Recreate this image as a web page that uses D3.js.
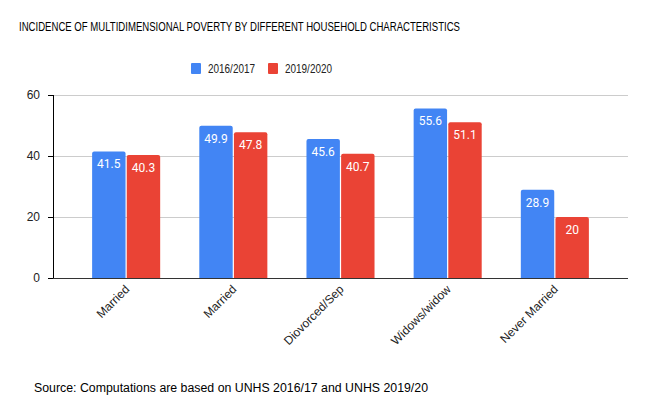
<!DOCTYPE html>
<html>
<head>
<meta charset="utf-8">
<script src="https://cdn.jsdelivr.net/npm/d3@7.9.0/dist/d3.min.js"></script>
<style>
  body { margin: 0; background: #fff; }
  svg { font-family: Arial, "Liberation Sans", sans-serif; }
</style>
</head>
<body>
<svg id="chart"></svg>
<script>
// data
const categories = ['Married', 'Married', 'Diovorced/Sep', 'Widows/widow', 'Never Married'];
const seriesNames = ['2016/2017', '2019/2020'];
const values2016 = [41.5, 49.9, 45.6, 55.6, 28.9];
const values2019 = [40.3, 47.8, 40.7, 51.1, 20];
const yTicks = [0, 20, 40, 60];
const colors = ['#4285f4', '#ea4335'];

const width = 646;
const height = 400;

const svg = d3.select('#chart')
    .attr('width', width)
    .attr('height', height);

const area = { left: 53, right: 628, top: 95, bottom: 278 };

// index-based band so the duplicate "Married" label gets its own slot
const xScale = d3.scaleBand()
    .domain(categories.map((d, i) => i))
    .range([area.left, area.right])
    .padding(0.365);

const xInner = d3.scaleBand()
    .domain([0, 1])
    .range([0, xScale.bandwidth()])
    .paddingInner(0.035);

const yScale = d3.scaleLinear()
    .domain([0, 60])
    .range([area.bottom, area.top]);

// title (reference font is condensed, so squeeze to its width)
svg.append('text')
    .attr('x', 19)
    .attr('y', 31)
    .attr('font-size', 12.5)
    .attr('fill', '#000')
    .attr('textLength', 441)
    .attr('lengthAdjust', 'spacingAndGlyphs')
    .text('INCIDENCE OF MULTIDIMENSIONAL POVERTY BY DIFFERENT HOUSEHOLD CHARACTERISTICS');

// legend
const legend = svg.append('g').attr('class', 'legend');
const legendX = [191, 268];
seriesNames.forEach((name, i) => {
    legend.append('rect')
        .attr('x', legendX[i])
        .attr('y', 63)
        .attr('width', 10)
        .attr('height', 11)
        .attr('rx', 1)
        .attr('fill', colors[i]);
    legend.append('text')
        .attr('x', legendX[i] + 17)
        .attr('y', 73)
        .attr('font-size', 12)
        .attr('fill', '#222')
        .attr('textLength', 47)
        .attr('lengthAdjust', 'spacingAndGlyphs')
        .text(name);
});

// gridlines
svg.append('g')
    .attr('class', 'gridlines')
    .attr('transform', `translate(${area.left}, 0)`)
    .call(d3.axisLeft(yScale).tickValues(yTicks).tickFormat('').tickSize(-(area.right - area.left)))
    .call(g => g.select('.domain').remove())
    .call(g => g.selectAll('line').attr('stroke', '#cccccc'));

// bars
const groups = svg.append('g')
    .selectAll('g')
    .data(categories.map((c, i) => [values2016[i], values2019[i]]))
    .join('g')
    .attr('transform', (d, i) => `translate(${xScale(i)}, 0)`);

groups.selectAll('path')
    .data(d => d)
    .join('path')
    .attr('fill', (d, j) => colors[j])
    .attr('d', (d, j) => {
        const x0 = xInner(j), w = xInner.bandwidth();
        const y0 = yScale(d), y1 = yScale(0), r = 2;
        return `M${x0},${y1}V${y0 + r}Q${x0},${y0} ${x0 + r},${y0}H${x0 + w - r}Q${x0 + w},${y0} ${x0 + w},${y0 + r}V${y1}Z`;
    });

groups.selectAll('text')
    .data(d => d)
    .join('text')
    .attr('x', (d, j) => xInner(j) + xInner.bandwidth() / 2)
    .attr('y', d => yScale(d) + 17)
    .attr('text-anchor', 'middle')
    .attr('font-family', 'Roboto, Arial, sans-serif')
    .attr('font-size', 12)
    .attr('fill', '#fff')
    .text(d => d);

// y axis
const yAxis = svg.append('g')
    .attr('transform', `translate(${area.left}, 0)`)
    .call(d3.axisLeft(yScale).tickValues(yTicks).tickSize(5).tickPadding(8));
yAxis.select('.domain').attr('stroke', '#000').attr('d', `M0.5,${area.top}V${area.bottom}`);
yAxis.selectAll('line').attr('stroke', '#000');
yAxis.selectAll('text').attr('font-size', 12).attr('fill', '#222').attr('font-family', 'Arial, sans-serif');

// x axis baseline
svg.append('line')
    .attr('x1', area.left)
    .attr('x2', area.right)
    .attr('y1', yScale(0) + 0.5)
    .attr('y2', yScale(0) + 0.5)
    .attr('stroke', '#333');

// x labels, rotated
svg.append('g')
    .selectAll('text')
    .data(categories)
    .join('text')
    .attr('transform', (d, i) => `translate(${xScale(i) + xScale.bandwidth() / 2 + 4}, ${area.bottom + 12}) rotate(-45)`)
    .attr('text-anchor', 'end')
    .attr('font-size', 12)
    .attr('fill', '#222')
    .text(d => d);

// source note
svg.append('text')
    .attr('x', 34)
    .attr('y', 392)
    .attr('font-size', 12.3)
    .attr('fill', '#000')
    .attr('textLength', 394)
    .attr('lengthAdjust', 'spacingAndGlyphs')
    .text('Source: Computations are based on UNHS 2016/17 and UNHS 2019/20');
</script>
</body>
</html>
